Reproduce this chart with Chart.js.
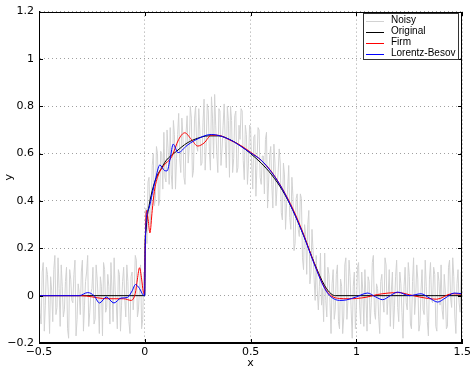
<!DOCTYPE html>
<html><head><meta charset="utf-8">
<script src="https://cdn.jsdelivr.net/npm/chart.js@4/dist/chart.umd.min.js"></script>
<style>html,body{margin:0;padding:0;background:#fff;overflow:hidden}#wrap{width:474px;height:371px;position:relative}</style>
</head><body><div id="wrap"><canvas id="c" width="474" height="371"></canvas></div>
<script>
const xTicks = [-0.5, 0, 0.5, 1, 1.5];
const yTicks = [-0.2, 0, 0.2, 0.4, 0.6, 0.8, 1, 1.2];
const seriesNames = ['Noisy', 'Original', 'Firm', 'Lorentz-Besov'];

// Noisy samples on the grid x = -0.5, -0.495, ..., 1.5 (one row = 0.1 in x)
const noisyStart = -0.5, noisyStep = 0.005;
const noisyY = [
 0.05,-0.07,-0.12,0.10,0.14,-0.15,-0.04,0.12,0.09,-0.01,-0.16,0.08,0.02,-0.11,0.11,0.17,-0.08,-0.05,0.16,0.03,
 -0.13,0.13,0.04,-0.09,-0.06,0.06,0.12,-0.14,-0.18,0.11,0.07,-0.02,-0.03,0.09,0.15,-0.17,-0.10,0.05,0.01,-0.08,
 0.10,0.15,-0.15,-0.04,0.06,0.10,0.17,-0.13,-0.07,0.01,0.03,0.12,-0.12,-0.10,0.13,0.07,-0.02,-0.16,0.08,0.04,
 -0.17,0.14,0.11,-0.07,-0.05,0.09,0.04,-0.12,0.14,0.02,-0.11,0.16,0.02,-0.03,-0.14,0.11,0.09,-0.15,-0.04,0.06,
 0.12,-0.01,-0.09,0.13,0.06,-0.11,-0.16,0.08,0.10,-0.06,0.01,0.17,0.15,-0.09,-0.06,0.03,0.13,-0.14,-0.10,0.10,
 0.08,0.37,0.22,0.48,0.50,0.30,0.37,0.55,0.60,0.38,0.41,0.63,0.60,0.38,0.40,0.61,0.60,0.45,0.69,0.50,
 0.48,0.70,0.62,0.47,0.71,0.51,0.45,0.74,0.68,0.45,0.58,0.68,0.77,0.58,0.52,0.75,0.68,0.50,0.47,0.69,
 0.76,0.56,0.63,0.80,0.75,0.50,0.53,0.75,0.80,0.63,0.61,0.79,0.70,0.55,0.56,0.73,0.83,0.53,0.63,0.81,
 0.78,0.61,0.53,0.84,0.75,0.58,0.85,0.72,0.60,0.52,0.79,0.78,0.55,0.62,0.72,0.81,0.65,0.54,0.80,0.74,
 0.50,0.80,0.74,0.52,0.58,0.76,0.78,0.52,0.54,0.72,0.66,0.79,0.78,0.57,0.49,0.72,0.68,0.47,0.56,0.72,
 0.71,0.56,0.45,0.67,0.68,0.42,0.55,0.71,0.70,0.50,0.47,0.59,0.59,0.43,0.66,0.69,0.37,0.48,0.59,0.63,
 0.47,0.37,0.64,0.56,0.38,0.46,0.52,0.62,0.56,0.35,0.32,0.56,0.51,0.28,0.39,0.45,0.55,0.33,0.28,0.50,
 0.42,0.19,0.22,0.41,0.43,0.28,0.25,0.43,0.41,0.16,0.11,0.30,0.26,0.09,0.30,0.36,0.05,0.10,0.28,0.19,
 0.07,-0.02,0.17,0.02,-0.06,0.04,0.18,-0.04,0.03,-0.11,0.18,-0.02,-0.09,0.12,0.09,-0.03,-0.16,0.05,0.11,-0.10,
 -0.06,0.09,0.13,-0.11,-0.14,0.07,0.04,-0.16,-0.09,0.13,0.16,-0.10,-0.02,0.15,0.08,-0.06,-0.18,0.04,0.10,-0.14,
 -0.05,0.12,0.14,-0.04,-0.12,0.10,0.02,-0.13,0.11,-0.01,-0.15,0.08,0.06,-0.12,-0.03,0.14,0.17,-0.07,-0.10,0.05,
 0.03,-0.09,-0.16,0.06,0.09,-0.02,-0.07,0.16,0.13,-0.08,0.00,0.11,-0.13,0.02,0.10,-0.14,-0.04,0.08,0.15,-0.05,
 -0.11,0.10,0.05,-0.07,-0.18,0.04,0.12,-0.03,-0.06,0.14,0.08,-0.12,-0.14,0.06,0.16,-0.08,-0.01,0.13,0.07,-0.15,
 -0.12,0.02,0.11,-0.06,-0.08,0.15,0.04,-0.11,-0.17,0.07,0.14,-0.02,-0.03,0.12,0.09,-0.13,-0.15,0.10,0.06,-0.04,
 0.13,-0.06,-0.10,0.09,0.02,-0.14,-0.13,0.12,0.15,-0.01,-0.05,0.16,0.08,-0.09,-0.16,0.05,0.11,-0.03,-0.07,0.10,
 0.05
];

const originalX = [-0.5,0,0.001,0.005,0.01,0.02,0.04,0.06,0.08,0.1,0.15,0.2,0.25,0.3,0.35,0.4,0.45,0.5,0.55,0.6,0.65,0.7,0.75,0.8,0.85,0.88,0.9,1.5];
const originalY = [0,0,0.2,0.27,0.32,0.38,0.46,0.51,0.54,0.57,0.61,0.645,0.665,0.675,0.675,0.66,0.635,0.60,0.56,0.51,0.445,0.36,0.255,0.14,0.042,0.008,0,0];

const firmX = [-0.5,-0.3,-0.25,-0.2,-0.15,-0.1,-0.065,-0.045,-0.035,-0.025,-0.015,-0.008,-0.002,0.001,0.004,0.009,0.016,0.024,0.035,0.045,0.06,0.09,0.126,0.16,0.189,0.22,0.25,0.28,0.315,0.35,0.4,0.45,0.5,0.55,0.6,0.65,0.7,0.75,0.8,0.85,0.88,0.92,0.96,1.0,1.05,1.1,1.2,1.25,1.3,1.38,1.45,1.5];
const firmY = [0,0,-0.005,-0.012,-0.013,-0.013,-0.02,0.01,0.07,0.118,0.07,0.02,0.005,0.15,0.3,0.36,0.32,0.265,0.36,0.44,0.50,0.55,0.585,0.66,0.688,0.66,0.632,0.645,0.678,0.677,0.658,0.636,0.606,0.572,0.522,0.452,0.366,0.26,0.138,0.033,0.0,-0.012,-0.013,-0.012,-0.006,0.005,0.013,0.004,-0.006,-0.015,0.008,0.006];

const lbX = [-0.5,-0.31,-0.27,-0.24,-0.214,-0.182,-0.146,-0.112,-0.083,-0.06,-0.044,-0.025,-0.008,-0.001,0.002,0.008,0.02,0.035,0.05,0.071,0.094,0.105,0.12,0.134,0.157,0.2,0.236,0.314,0.4,0.45,0.5,0.55,0.6,0.65,0.7,0.75,0.8,0.85,0.88,0.92,0.953,1.0,1.053,1.09,1.124,1.16,1.195,1.25,1.305,1.345,1.384,1.42,1.462,1.5];
const lbY = [0,0,0.013,0.0,-0.031,-0.006,-0.031,-0.01,-0.008,0.02,0.047,0.03,0.003,0.0,0.2,0.33,0.37,0.43,0.49,0.552,0.528,0.527,0.58,0.64,0.604,0.635,0.656,0.681,0.66,0.633,0.603,0.572,0.52,0.45,0.36,0.255,0.135,0.03,-0.005,-0.02,-0.018,-0.005,0.011,-0.005,-0.017,0.0,0.015,0.0,0.008,-0.01,-0.027,-0.01,0.011,0.008];

const colors = ['#d2d2d2', '#000000', '#ff0000', '#0000ff'];

const pts = (xs, ys) => ys.map((y, i) => ({x: xs[i], y}));
const noisyPts = noisyY.map((y, i) => ({x: +(noisyStart + i * noisyStep).toFixed(4), y}));

const fmt = v => String(+v.toFixed(2)).replace('-', '\u2212');

const frame = {
  id: 'frame',
  afterDraw(chart) {
    const {ctx, chartArea: a, scales: {x, y}} = chart;
    const L = Math.round(a.left), R = Math.round(a.right), T = Math.round(a.top), B = Math.round(a.bottom);
    ctx.save();
    ctx.strokeStyle = '#000'; ctx.lineWidth = 1;
    ctx.strokeRect(L + 0.5, T + 0.5, R - L - 1, B - T - 1);
    ctx.beginPath();
    xTicks.forEach(v => { const p = Math.round(x.getPixelForValue(v)) + 0.5;
      ctx.moveTo(p, B); ctx.lineTo(p, B - 4); ctx.moveTo(p, T); ctx.lineTo(p, T + 4); });
    yTicks.forEach(v => { const p = Math.round(y.getPixelForValue(v)) + 0.5;
      ctx.moveTo(L, p); ctx.lineTo(L + 4, p); ctx.moveTo(R, p); ctx.lineTo(R - 4, p); });
    ctx.stroke();
    // legend
    const lx = 363, ly = 13, lw = 95, lh = 46;
    ctx.fillStyle = '#fff'; ctx.fillRect(lx, ly, lw, lh);
    ctx.strokeStyle = '#333'; ctx.strokeRect(lx + 0.5, ly + 0.5, lw, lh);
    ctx.font = "10px 'Liberation Sans', Arial, sans-serif";
    ctx.textBaseline = 'middle'; ctx.textAlign = 'left';
    seriesNames.forEach((n, i) => {
      const yy = 20.5 + i * 11;
      ctx.strokeStyle = colors[i]; ctx.lineWidth = 1;
      ctx.beginPath(); ctx.moveTo(366, Math.round(yy) + 0.5); ctx.lineTo(384, Math.round(yy) + 0.5); ctx.stroke();
      ctx.fillStyle = '#000'; ctx.fillText(n, 391, yy);
    });
    ctx.restore();
  }
};

const ds = (label, data, color, order) => ({
  label, data, borderColor: color, backgroundColor: color, borderWidth: 1,
  pointRadius: 0, fill: false, cubicInterpolationMode: 'monotone', order
});

new Chart(document.getElementById('c'), {
  type: 'line',
  data: { datasets: [
    Object.assign(ds(seriesNames[0], noisyPts, colors[0], 4), {cubicInterpolationMode: 'default', tension: 0}),
    ds(seriesNames[1], pts(originalX, originalY), colors[1], 3),
    ds(seriesNames[2], pts(firmX, firmY), colors[2], 2),
    ds(seriesNames[3], pts(lbX, lbY), colors[3], 1)
  ]},
  options: {
    responsive: false, animation: false, devicePixelRatio: 1,
    layout: { padding: { top: 10, right: 11, left: 0, bottom: 0 } },
    plugins: { legend: { display: false }, tooltip: { enabled: false } },
    scales: {
      x: {
        type: 'linear', min: -0.5, max: 1.5,
        afterBuildTicks: s => { s.ticks = xTicks.map(v => ({value: v})); },
        afterFit: s => { s.height = 28; },
        ticks: { callback: v => fmt(v), color: '#000', padding: 3, maxRotation: 0, autoSkip: false,
                 font: { family: "'DejaVu Sans', sans-serif", size: 11 } },
        grid: { color: '#a0a0a0', lineWidth: 1, drawTicks: false },
        border: { display: true, color: '#000', width: 1, dash: [1, 3] },
        title: { display: true, text: 'x', color: '#000', padding: { top: 0, bottom: 1 },
                 font: { family: "'DejaVu Sans', sans-serif", size: 11 } }
      },
      y: {
        type: 'linear', min: -0.2, max: 1.2,
        afterBuildTicks: s => { s.ticks = yTicks.map(v => ({value: v})); },
        afterFit: s => { s.width = 39; },
        ticks: { callback: v => fmt(v), color: '#000', padding: 5, autoSkip: false,
                 font: { family: "'DejaVu Sans', sans-serif", size: 11 } },
        grid: { color: '#a0a0a0', lineWidth: 1, drawTicks: false },
        border: { display: true, color: '#000', width: 1, dash: [1, 3] },
        title: { display: true, text: 'y', color: '#000', padding: { top: 3, bottom: 0 },
                 font: { family: "'DejaVu Sans', sans-serif", size: 11 } }
      }
    }
  },
  plugins: [frame]
});
</script></body></html>
